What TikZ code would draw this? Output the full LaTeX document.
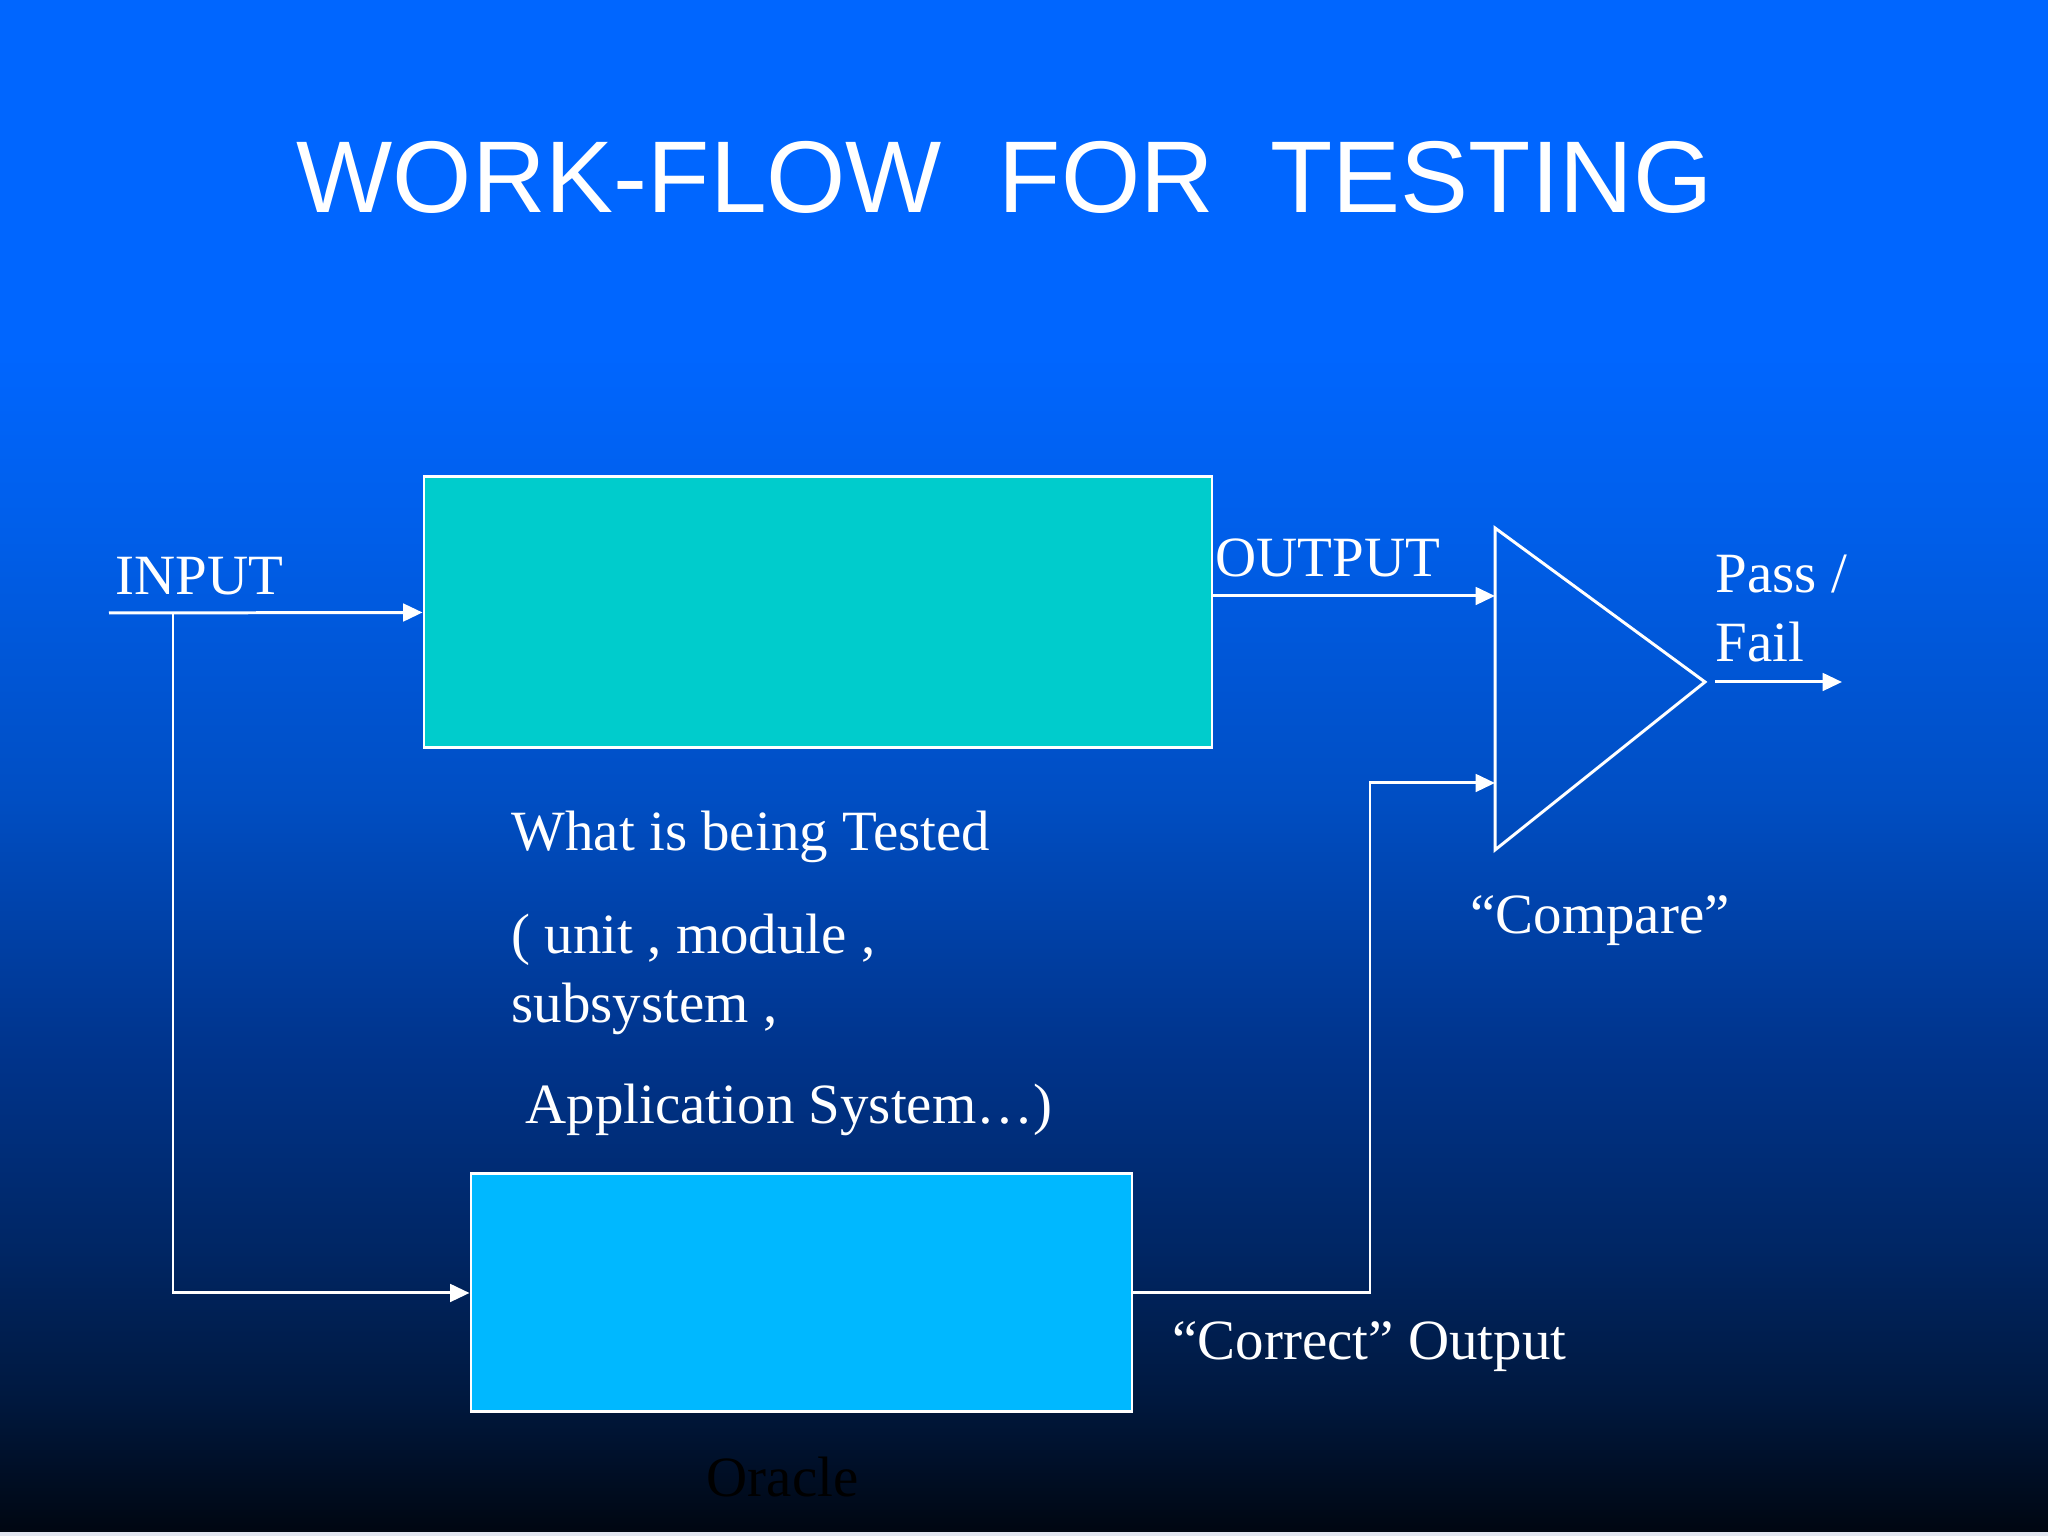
\documentclass[tikz,border=0pt]{standalone}
\usepackage{fontspec}
\setmainfont{Liberation Serif}
\newfontfamily\titlefont{Liberation Sans}
\usetikzlibrary{arrows.meta}
\definecolor{bgTop}{RGB}{0,102,255}
\definecolor{bgUpper}{RGB}{0,95,235}
\definecolor{bgMid}{RGB}{0,78,195}
\definecolor{bgLow}{RGB}{0,52,140}
\definecolor{bgNavy}{RGB}{0,38,100}
\definecolor{bgDark}{RGB}{0,24,62}
\definecolor{bgBottom}{RGB}{0,6,16}
\definecolor{bgStrip}{RGB}{225,230,240}
\definecolor{testCyan}{RGB}{0,204,204}
\definecolor{oracleBlue}{RGB}{0,184,255}
\pgfdeclareverticalshading{slideBg}{100bp}{color(0bp)=(bgBottom); color(25bp)=(bgBottom);
  color(29.4bp)=(bgDark); color(34.3bp)=(bgNavy); color(40.8bp)=(bgLow);
  color(49bp)=(bgMid); color(58.1bp)=(bgUpper); color(63.6bp)=(bgTop);
  color(75bp)=(bgTop); color(100bp)=(bgTop)}

\begin{document}
\begin{tikzpicture}[
    flow/.style={draw=white, line width=0.85pt, -{Triangle[length=5.5pt,width=5pt]}},
    wire/.style={draw=white, line width=0.85pt},
    unitbox/.style={draw=white, line width=0.85pt, inner sep=0pt},
    lbl/.style={text=white, font=\fontsize{16.2}{19}\selectfont, inner sep=0pt, anchor=base west}]
  \useasboundingbox (0,0) rectangle (20.48,15.36);
  \shade[shading=slideBg] (0,0) rectangle (20.48,15.36);
  \fill[bgStrip] (0,0) rectangle (20.48,0.04);

  \node[text=white, font=\titlefont\fontsize{29}{35}\selectfont, anchor=base, inner sep=0pt]
    (title) at (10.045,13.23) {WORK-FLOW\ \ FOR\ \ TESTING};

  % boxes
  \node[unitbox, fill=testCyan, minimum width=7.88cm, minimum height=2.71cm] (test) at (8.18,9.235) {};
  \node[unitbox, fill=oracleBlue, minimum width=6.61cm, minimum height=2.38cm] (oracle) at (8.015,2.43) {};

  % comparator
  \coordinate (cmpTop) at (14.95,10.08);
  \coordinate (cmpBot) at (14.95,6.86);
  \coordinate (cmpTip) at (17.05,8.54);
  \draw[wire] (cmpTop) -- (cmpTip) -- (cmpBot) -- cycle;

  \coordinate (inStart) at (1.09,9.23);
  \coordinate (split) at (1.73,9.23);
  \coordinate (cmpIn1) at (14.95,9.40);
  \coordinate (cmpIn2) at (14.95,7.53);
  \coordinate (bend) at (13.70,2.43);
  \coordinate (resStart) at (17.15,8.54);
  \coordinate (resEnd) at (18.42,8.54);

  \draw[flow] (inStart) -- (test.west);
  \draw[flow] (split) |- (oracle.west);
  \draw[flow] (test.east |- cmpIn1) -- (cmpIn1);
  \draw[flow] (oracle.east) -- (bend) |- (cmpIn2);
  \draw[flow] (resStart) -- (resEnd);

  % labels
  \node[lbl] (inLbl) at (1.15,9.41) {INPUT};
  \node[lbl] (outLbl) at (12.15,9.59) {OUTPUT};
  \node[lbl] (passLbl) at (17.15,9.43) {Pass /};
  \node[lbl] (failLbl) at (17.15,8.74) {Fail};
  \node[lbl, anchor=base] (cmpLbl) at (16.00,6.02) {“Compare”};
  \node[lbl] (whatLbl) at (5.11,6.85) {What is being Tested};
  \node[lbl] (unitLbl) at (5.11,5.82) {( unit , module ,};
  \node[lbl] (subLbl) at (5.11,5.13) {subsystem ,};
  \node[lbl] (appLbl) at (5.25,4.12) {Application System…)};
  \node[lbl] (corrLbl) at (11.72,1.76) {“Correct” Output};
  \node[lbl, text=black] (oracleLbl) at (7.06,0.39) {Oracle};
\end{tikzpicture}
\end{document}
